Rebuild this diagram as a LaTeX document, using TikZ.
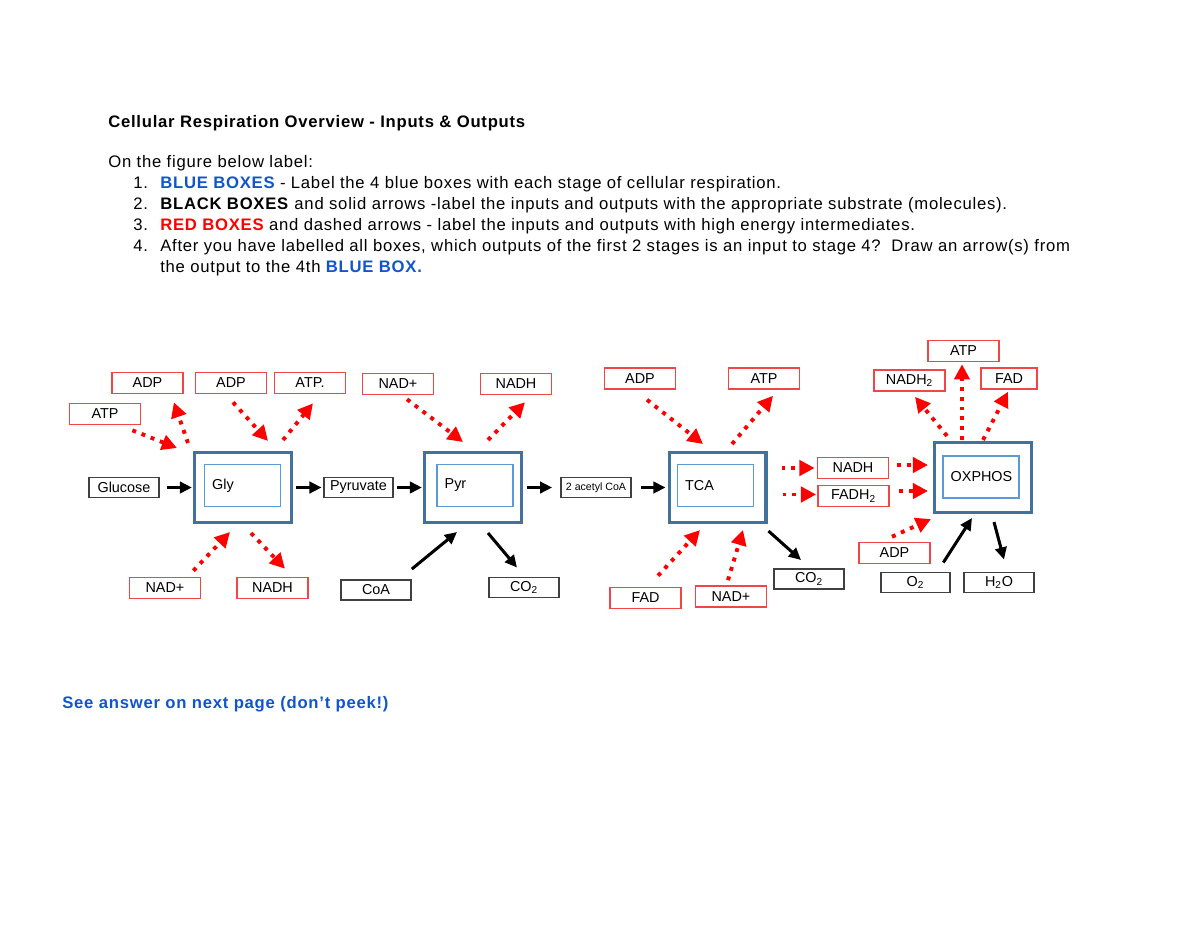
\documentclass[tikz,border=0pt]{standalone}
\usepackage{fontspec}
\setmainfont{Liberation Sans}
\newfontfamily\docfont{Liberation Sans}[LetterSpace=4.5]
\usepackage{tikz}
\usetikzlibrary{arrows.meta}
\definecolor{stageblue}{RGB}{65,113,156}
\definecolor{innerblue}{RGB}{91,155,213}
\definecolor{boxred}{RGB}{240,70,70}
\definecolor{boxgray}{RGB}{64,64,64}
\definecolor{textblue}{RGB}{17,85,204}
\definecolor{arrowred}{RGB}{255,0,0}

\begin{document}
\begin{tikzpicture}[x=0.66pt,y=-0.66pt,font=\fontsize{11}{13}\selectfont,
  stage node/.style={rectangle,draw=stageblue,line width=2pt,fill=white,minimum width=64pt,minimum height=46.2pt,inner sep=0},
  inner node/.style={rectangle,draw=innerblue,line width=1pt,text width=40pt,align=left,inner xsep=5pt,minimum height=27.7pt,font=\fontsize{9.5}{11}\selectfont},
  sub node/.style={rectangle,draw=boxgray,line width=1.3pt,minimum width=46pt,minimum height=13.2pt,inner sep=1pt,font=\fontsize{9.5}{11}\selectfont},
  energy node/.style={rectangle,draw=boxred,line width=1pt,minimum width=47pt,minimum height=13.9pt,inner sep=1pt,font=\fontsize{9.5}{11}\selectfont},
  text node/.style={anchor=base west,inner sep=0,font=\fontsize{11}{13}\docfont},
  solid arrow/.style={-{Triangle[length=8pt,width=7.5pt]},draw=black,line width=2pt},
  dot arrow/.style={-{Triangle[length=10pt,width=10pt]},draw=arrowred,line width=2.6pt,dash pattern=on 2.6pt off 3.9pt}]
  \path[fill=white] (0,0) rectangle (1200,927);

  \node[text node,font=\fontsize{11}{13}\docfont\bfseries] (title) at (108,127) {Cellular Respiration Overview - Inputs \& Outputs};
  \node[text node] (intro) at (108,167) {On the figure below label:};
  \node[text node] (n1) at (133,188) {1.};
  \node[text node] (n2) at (133,209) {2.};
  \node[text node] (n3) at (133,230) {3.};
  \node[text node] (n4) at (133,251) {4.};
  \node[text node] (l1) at (160,188) {\textcolor{textblue}{\bfseries BLUE BOXES} - Label the 4 blue boxes with each stage of cellular respiration.};
  \node[text node] (l2) at (160,209) {\textbf{BLACK BOXES} and solid arrows -label the inputs and outputs with the appropriate substrate (molecules).};
  \node[text node] (l3) at (160,230) {\textcolor{arrowred}{\bfseries RED BOXES} and dashed arrows - label the inputs and outputs with high energy intermediates.};
  \node[text node] (l4) at (160,251) {After you have labelled all boxes, which outputs of the first 2 stages is an input to stage 4?\ \ Draw an arrow(s) from};
  \node[text node] (l5) at (160,272) {the output to the 4th \textcolor{textblue}{\bfseries BLUE BOX.}};
  \node[text node,text=textblue,font=\fontsize{11}{13}\docfont\bfseries] (peek) at (62,708) {See answer on next page (don’t peek!)};

  \node[stage node] (1) at (243,487.5) {};
  \node[stage node] (2) at (473,487.5) {};
  \node[stage node] (3) at (717.5,487.5) {};
  \node[stage node] (4) at (983,477.5) {};
  \node[inner node] (5) at (242.5,485.5) {Gly};
  \node[inner node] (6) at (475,485.5) {Pyr};
  \node[inner node] (7) at (715.5,485.5) {TCA};
  \node[inner node] (8) at (981,477) {OXPHOS};

  \node[sub node] (9) at (124,487.5) {Glucose};
  \node[sub node] (10) at (358.5,487.5) {Pyruvate};
  \node[sub node,font=\fontsize{7}{8}\selectfont] (11) at (596,487.5) {2 acetyl CoA};
  \node[sub node] (12) at (376,590) {CoA};
  \node[sub node] (13) at (524,587.5) {CO\textsubscript{2}};
  \node[sub node] (14) at (809,579) {CO\textsubscript{2}};
  \node[sub node] (15) at (915.5,582.5) {O\textsubscript{2}};
  \node[sub node] (16) at (999,582.5) {H\textsubscript{2}O};

  \node[energy node] (17) at (147.5,383) {ADP};
  \node[energy node] (18) at (105,414) {ATP};
  \node[energy node] (19) at (231,383) {ADP};
  \node[energy node] (20) at (310,383) {ATP.};
  \node[energy node] (21) at (165,588) {NAD+};
  \node[energy node] (22) at (272.5,588) {NADH};
  \node[energy node] (23) at (398,384) {NAD+};
  \node[energy node] (24) at (516,384) {NADH};
  \node[energy node] (25) at (640,378.5) {ADP};
  \node[energy node] (26) at (764,378.5) {ATP};
  \node[energy node] (27) at (853,468) {NADH};
  \node[energy node] (28) at (853.5,496) {FADH\textsubscript{2}};
  \node[energy node] (29) at (645.5,598) {FAD};
  \node[energy node] (30) at (731,596.5) {NAD+};
  \node[energy node] (31) at (963.5,351) {ATP};
  \node[energy node] (32) at (909.5,380.5) {NADH\textsubscript{2}};
  \node[energy node,minimum width=37pt] (33) at (1009,378.5) {FAD};
  \node[energy node] (34) at (894.5,553) {ADP};

  \path
    (9) edge [solid arrow,shorten <=4.6pt,shorten >=0.7pt] (1)
    (1) edge [solid arrow,shorten <=2pt,shorten >=0.7pt] (10)
    (10) edge [solid arrow,shorten <=2pt,shorten >=0.7pt] (2)
    (2) edge [solid arrow,shorten <=2.6pt,shorten >=5.3pt] (11)
    (11) edge [solid arrow,shorten <=6pt,shorten >=1.3pt] (3)
    ([shift={(0,-10)}]12.north east) edge [solid arrow] ([shift={(-16,8)}]2.south)
    ([shift={(15,9)}]2.south) edge [solid arrow] ([shift={(-7,-9)}]13.north)
    ([shift={(1,7)}]3.south east) edge [solid arrow] ([shift={(-8,-8)}]14.north)
    ([shift={(-8,-9)}]15.north east) edge [solid arrow] ([shift={(-11,4)}]4.south)
    ([shift={(11,8)}]4.south) edge [solid arrow] ([shift={(5,-12)}]16.north);

  \path
    ([shift={(-9,5)}]18.south east) edge [dot arrow] ([shift={(-16,-3)}]1.north west)
    ([shift={(-5,-8)}]1.north west) edge [dot arrow] ([shift={(-10,8)}]17.south east)
    ([shift={(2,8)}]19.south) edge [dot arrow] ([shift={(25,-10)}]1.north)
    ([shift={(-10,-11)}]1.north east) edge [dot arrow] ([shift={(3,9)}]20.south)
    ([shift={(-8,-6)}]21.north east) edge [dot arrow] ([shift={(-13,8)}]1.south)
    ([shift={(8,9)}]1.south) edge [dot arrow] ([shift={(12.5,-8)}]22.north)
    ([shift={(9,4)}]23.south) edge [dot arrow] ([shift={(-10,-9)}]2.north)
    ([shift={(15,-11)}]2.north) edge [dot arrow] ([shift={(9,7)}]24.south)
    ([shift={(7,10)}]25.south) edge [dot arrow] ([shift={(-14.5,-7)}]3.north)
    ([shift={(14.5,-7)}]3.north) edge [dot arrow] ([shift={(9,6)}]26.south)
    ([shift={(14,-19.5)}]3.east) edge [dot arrow] ([shift={(-2,0)}]27.west)
    ([shift={(15,7)}]3.east) edge [dot arrow] ([shift={(-1,-1.5)}]28.west)
    ([shift={(12.5,-11)}]29.north) edge [dot arrow] ([shift={(-17.5,6)}]3.south)
    ([shift={(-3,-5)}]30.north) edge [dot arrow] ([shift={(25.5,6)}]3.south)
    ([shift={(8,-3)}]27.east) edge [dot arrow] ([shift={(-5,-12.5)}]4.west)
    ([shift={(9,-5)}]28.east) edge [dot arrow] ([shift={(-5,13.5)}]4.west)
    ([shift={(-2.5,-5)}]34.north) edge [dot arrow] ([shift={(-2,5)}]4.south west)
    ([shift={(14,-5)}]4.north west) edge [dot arrow] ([shift={(5.5,5)}]32.south)
    ([shift={(-21,-1)}]4.north) edge [dot arrow] ([shift={(-1.5,2)}]31.south)
    ([shift={(0,-1)}]4.north) edge [dot arrow] ([shift={(-1,2)}]33.south);
\end{tikzpicture}
\end{document}
